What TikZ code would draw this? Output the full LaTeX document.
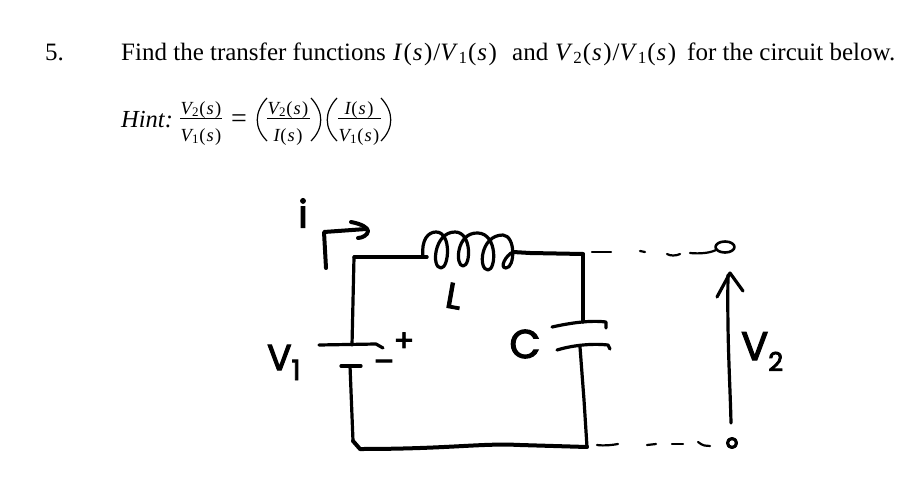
\documentclass[tikz,border=0pt]{standalone}
\usepackage{fontspec}
\setmainfont{Liberation Serif}
\newfontfamily\handfont[FakeBold=3]{Poppins}
\tikzset{
 x=1pt,y=-1pt,
 doc/.style={inner sep=0pt,anchor=base west,font=\fontsize{25}{25}\selectfont},
 mth/.style={inner sep=0pt,anchor=base,font=\fontsize{18.5}{18.5}\selectfont\itshape},
 wire/.style={line width=3.2pt,line cap=round,line join=round},
 heavy wire/.style={line width=4pt,line cap=round,line join=round},
 lead/.style={line width=2.2pt,line cap=round,line join=round},
 hand/.style={inner sep=0pt,font=\handfont\fontsize{36}{36}\selectfont},
 fracbar/.style={line width=1.1pt},
 paren/.style={line width=1.2pt}
}
\newcommand{\subT}[1]{\kern.5pt\raisebox{-.22ex}{\fontsize{17}{17}\selectfont\upshape #1}\kern1pt}
\newcommand{\subF}[1]{\kern.3pt\raisebox{-.22ex}{\fontsize{13}{13}\selectfont\upshape #1}\kern.6pt}
\newcommand{\prs}{\textup{(}\kern1pt\textit{s}\kern1.5pt\textup{)}}
\begin{document}
\begin{tikzpicture}
\useasboundingbox (0,0) rectangle (920,497);
\fill[white] (0,0) rectangle (920,497);
\node[doc] (num) at (45,61) {5.};
\node[doc] (q1) at (121,61) {Find the transfer functions};
\node[doc] (q2) at (393,61) {\textit{I}\kern1pt\prs\kern1pt/\textit{V}\subT{1}\prs};
\node[doc] (q3) at (512,61) {and};
\node[doc] (q4) at (555,61) {\textit{V}\subT{2}\prs\kern1pt/\textit{V}\subT{1}\prs};
\node[doc] (q5) at (687,61) {for the circuit below.};
\node[doc,font=\fontsize{24.5}{24.5}\selectfont\itshape] (hint) at (121,128) {Hint:};
\node[mth] (a1) at (201,115) {V\subF{2}\prs};
\draw[fracbar] (180,118.5) -- (222,118.5);
\node[mth] (a2) at (201,142) {V\subF{1}\prs};
\node[doc,font=\fontsize{28}{28}\selectfont] (eq) at (231,128) {=};
\node[mth] (b1) at (288,115) {V\subF{2}\prs};
\draw[fracbar] (267,118.5) -- (310,118.5);
\node[mth] (b2) at (288,142) {I\prs};
\node[mth] (c1) at (359,115) {I\prs};
\draw[fracbar] (338,118.5) -- (381,118.5);
\node[mth] (c2) at (359,142) {V\subF{1}\prs};
\draw[paren] (267,98) .. controls (254,112) and (254,128) .. (267,141);
\draw[paren] (311,98) .. controls (324,112) and (324,128) .. (311,141);
\draw[paren] (337,98) .. controls (324,112) and (324,128) .. (337,141);
\draw[paren] (381,98) .. controls (394,112) and (394,128) .. (381,141);

% circuit
\coordinate (tl) at (354,257);
\coordinate (lin) at (427,257);
\coordinate (lout) at (513,252);
\coordinate (tr) at (583,254);
\coordinate (capt) at (583,322);
\coordinate (capb) at (580,347);
\coordinate (br) at (587,447);
\coordinate (bl) at (360,449);
\coordinate (bt) at (352,345);
\coordinate (bb) at (350,366);
% current arrow
\draw[heavy wire] (326,268) -- (324,232) -- (366,229);
\draw[heavy wire] (351,222) .. controls (362,224) and (368,228) .. (368,231) .. controls (368,235) and (362,238) .. (358,238);
\draw[wire] (tl) -- (lin);
% inductor
\draw[wire] (lin) -- (423,257) .. controls (421,240) and (428,232) .. (436,232)
 .. controls (452,232) and (449,268) .. (441,268) .. controls (431,268) and (434,232) .. (455,232)
 .. controls (472,232) and (471,266) .. (463,266) .. controls (455,266) and (456,232) .. (478,233)
 .. controls (498,234) and (496,270) .. (488,270) .. controls (478,270) and (480,235) .. (503,235)
 .. controls (516,236) and (515,268) .. (506,268) .. controls (499,268) and (506,255) .. (lout);
\draw[heavy wire] (lout) -- (530,253) -- (tr);
\draw[wire] (tr) -- (capt);
\draw[wire] (552,327) .. controls (570,323) and (590,320) .. (606,322) -- (606,328);
\draw[wire] (557,350) .. controls (570,346) and (590,343) .. (608,345) -- (610,349);
\draw[wire] (capb) -- (584,400) -- (br);
\draw[heavy wire] (br) -- (520,445) .. controls (480,443) and (450,449) .. (bl) -- (353,441);
\draw[wire] (353,441) -- (bb);
\draw[wire] (341,366) -- (361,366);
\draw[wire] (tl) -- (bt);
\draw[wire] (319,345) -- (376,344) -- (383,348);
% dashed leads
\draw[lead] (592,252) -- (611,252);
\draw[lead] (640,251) -- (645,252);
\draw[lead] (667,254) .. controls (670,256) and (676,256) .. (680,254);
\draw[lead] (690,253) .. controls (700,254) and (710,253) .. (716,250);
\draw[wire,line width=2.6pt] (725,247) ellipse (9.5pt and 5.5pt);
\draw[lead] (597,445) .. controls (605,446) and (612,445) .. (618,444);
\draw[lead] (647,445) -- (656,444);
\draw[lead] (672,444) -- (683,444);
\draw[lead] (698,442) .. controls (703,446) and (706,446) .. (710,446);
\draw[wire] (732,443) circle (4.5pt);
% V2 arrow
\draw[wire] (731,423) .. controls (730,380) and (727,340) .. (728,275);
\draw[wire] (717,297) -- (730,273) -- (743,291);
% labels
\node[hand,font=\handfont\fontsize{38}{38}\selectfont] (li) at (303,213) {i};
\node[hand,rotate=-10] (ll) at (454,296) {L};
\node[hand,font=\handfont\fontsize{40}{40}\selectfont] (lc) at (525,344) {C};
\node[hand,anchor=base west] (lv1) at (267,370) {V\raisebox{-10pt}{\fontsize{28}{28}\selectfont 1}};
\node[hand,anchor=base west,font=\handfont\fontsize{40}{40}\selectfont] (lv2) at (741,360) {V\raisebox{-11pt}{\fontsize{26}{26}\selectfont 2}};
\node[hand,font=\handfont\fontsize{30}{30}\selectfont] (plus) at (404,342) {+};
\node[hand,font=\handfont\fontsize{30}{22}\selectfont] (minus) at (384,366) {–};
\end{tikzpicture}
\end{document}
